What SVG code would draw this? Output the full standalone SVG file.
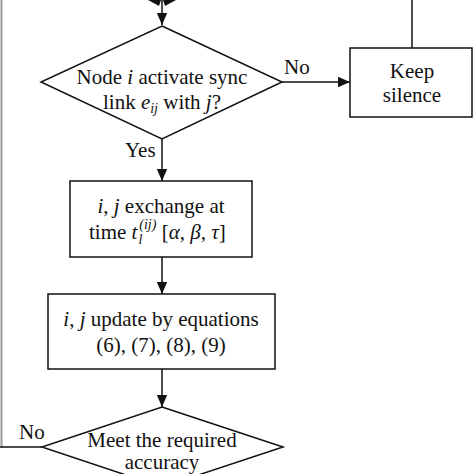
<svg xmlns="http://www.w3.org/2000/svg" width="474" height="474" viewBox="0 0 474 474">
<style>
.s{fill:#fff;stroke:#111;stroke-width:1.5}
.l{fill:none;stroke:#111;stroke-width:1.5}
text{font-family:"Liberation Serif","Times New Roman",serif;font-size:21px;fill:#111}
.c{text-anchor:middle}
.i{font-style:italic}
</style>
<defs>
<marker id="ah" markerUnits="userSpaceOnUse" markerWidth="12" markerHeight="14" viewBox="0 0 14 12" refX="14" refY="6" orient="auto">
<path d="M0,0 L14,6 L0,12 Z" fill="#111"/>
</marker>
</defs>
<rect width="474" height="474" fill="#fff"/>
<g id="connectors">
<line x1="1.5" y1="0" x2="1.5" y2="447" stroke="#9a9a9a" stroke-width="2"/>
<line class="l" x1="162" y1="0" x2="162" y2="25" marker-end="url(#ah)"/>
<polygon points="148,0 161,0 159,6" fill="#111"/>
<polygon points="176,0 163,0 165,6" fill="#111"/>
<line class="l" x1="282" y1="82" x2="350" y2="82" marker-end="url(#ah)"/>
<line class="l" x1="412" y1="48" x2="412" y2="0"/>
<line class="l" x1="162" y1="139" x2="162" y2="181" marker-end="url(#ah)"/>
<line class="l" x1="162" y1="257" x2="162" y2="294" marker-end="url(#ah)"/>
<line class="l" x1="162" y1="369" x2="162" y2="407" marker-end="url(#ah)"/>
<line class="l" x1="42" y1="447" x2="0" y2="447"/>
<text x="284" y="74">No</text>
<text x="125" y="157">Yes</text>
<text x="19" y="439">No</text>
</g>
<g id="decision1">
<polygon class="s" points="162,26 282,82 162,139 41,82"/>
<text class="c" x="162" y="84">Node <tspan class="i">i</tspan> activate sync</text>
<text class="c" x="162" y="109">link <tspan class="i">e</tspan><tspan class="i" font-size="14" dy="4">ij</tspan><tspan dy="-4"> with </tspan><tspan class="i">j</tspan>?</text>
</g>
<g id="keep">
<rect class="s" x="350" y="48" width="122" height="69"/>
<text class="c" x="412" y="78">Keep</text>
<text class="c" x="412" y="102">silence</text>
</g>
<g id="exchange">
<rect class="s" x="70" y="181" width="182" height="76"/>
<text class="c" x="161" y="213"><tspan class="i">i</tspan>, <tspan class="i">j</tspan> exchange at</text>
<text x="89" y="239">time <tspan class="i">t</tspan><tspan class="i" font-size="14" dx="1" dy="5">l</tspan><tspan class="i" font-size="14" dx="-3" dy="-15">(ij)</tspan><tspan dy="10"> [</tspan><tspan class="i">α</tspan>, <tspan class="i">β</tspan>, <tspan class="i">τ</tspan>]</text>
</g>
<g id="update">
<rect class="s" x="48" y="294" width="227" height="75"/>
<text class="c" x="161" y="326"><tspan class="i">i</tspan>, <tspan class="i">j</tspan> update by equations</text>
<text class="c" x="161" y="352">(6), (7), (8), (9)</text>
</g>
<g id="decision2">
<polygon class="s" points="162,407 283,447 162,487 42,447"/>
<text class="c" x="162" y="447" font-size="20.5">Meet the required</text>
<text class="c" x="162" y="469" font-size="20.5">accuracy</text>
</g>
</svg>
